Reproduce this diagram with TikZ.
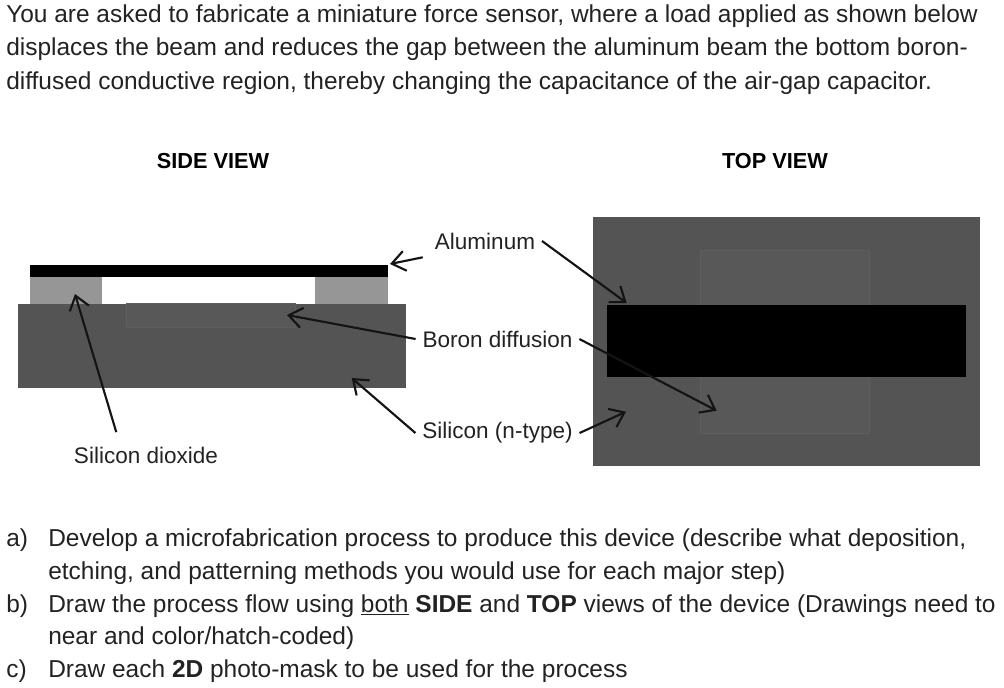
\documentclass[tikz,border=0pt]{standalone}
\usepackage{fontspec}
\setmainfont{Liberation Sans}
\usetikzlibrary{arrows.meta}
\definecolor{silicon}{HTML}{545454}
\definecolor{boron}{HTML}{585858}
\definecolor{boronedge}{HTML}{5E5E5E}
\definecolor{oxide}{HTML}{969696}
\definecolor{ink}{HTML}{222222}
\tikzset{
  para/.style = {anchor=base west, inner sep=0pt, text=ink, font=\fontsize{18.35}{20}\selectfont},
  lbl/.style = {inner sep=5pt, text=ink, font=\fontsize{16.9}{18}\selectfont},
  head/.style = {inner sep=0pt, text=black, font=\fontsize{16.3}{18}\selectfont\bfseries},
  pointer/.style = {-{Straight Barb[length=10pt, width=15pt, line width=1.6pt]}, line width=1.6pt, color=black!92}
}
\begin{document}
\begin{tikzpicture}[x=0.75pt, y=-0.75pt]
  \useasboundingbox (0,0) rectangle (1004,687);
  \node[para] (line1) at (6,22.5) {You are asked to fabricate a miniature force sensor, where a load applied as shown below};
  \node[para] (line2) at (6,55.5) {displaces the beam and reduces the gap between the aluminum beam the bottom boron-};
  \node[para] (line3) at (6,89) {diffused conductive region, thereby changing the capacitance of the air-gap capacitor.};
  \node[head] (sidehead) at (213,161) {SIDE VIEW};
  \node[head] (tophead) at (775,161) {TOP VIEW};

  \fill[silicon] (18,304) rectangle (405.5,388);
  \draw[boronedge, line width=0.5pt, fill=boron] (126,303) rectangle (295,327);
  \fill[oxide] (29.5,277) rectangle (102,304);
  \fill[oxide] (315,277) rectangle (388,304);
  \fill[black] (29.5,265) rectangle (388,277);

  \fill[silicon] (592.7,217) rectangle (980,465.7);
  \draw[boronedge, line width=0.5pt, fill=boron] (700.7,250.7) rectangle (869,433);
  \fill[black] (606.7,305) rectangle (966,377);

  \node[lbl] (alum) at (485,241) {Aluminum};
  \node[lbl] (diff) at (497.5,339) {Boron diffusion};
  \node[lbl] (sili) at (497.5,433) {Silicon (n-type)};
  \node[lbl] (oxid) at (146,455) {Silicon dioxide};

  \coordinate (alumside) at (390,264);
  \coordinate (alumtop) at (626.7,303);
  \coordinate (diffside) at (287,315);
  \coordinate (difftop) at (716.7,410.7);
  \coordinate (siliside) at (351.7,378);
  \coordinate (silitop) at (626,411.7);
  \coordinate (oxidside) at (75,294);

  \draw[pointer, shorten <=4pt] (alum.south west) -- (alumside);
  \draw[pointer] (alum.east) -- (alumtop);
  \draw[pointer] (diff.west) -- (diffside);
  \draw[pointer] (diff.east) -- (difftop);
  \draw[pointer] (sili.west) -- (siliside);
  \draw[pointer] (sili.east) -- (silitop);
  \draw[pointer, shorten <=6pt] (oxid.151) -- (oxidside);

  \node[para] (itema) at (6,546) {a)};
  \node[para] (texta1) at (48,546) {Develop a microfabrication process to produce this device (describe what deposition,};
  \node[para] (texta2) at (48,579) {etching, and patterning methods you would use for each major step)};
  \node[para] (itemb) at (6,612) {b)};
  \node[para] (textb1) at (48,612) {Draw the process flow using \underline{both} \textbf{SIDE} and \textbf{TOP} views of the device (Drawings need to};
  \node[para] (textb2) at (48,644) {near and color/hatch-coded)};
  \node[para] (itemc) at (6,677) {c)};
  \node[para] (textc) at (48,677) {Draw each \textbf{2D} photo-mask to be used for the process};
\end{tikzpicture}
\end{document}
